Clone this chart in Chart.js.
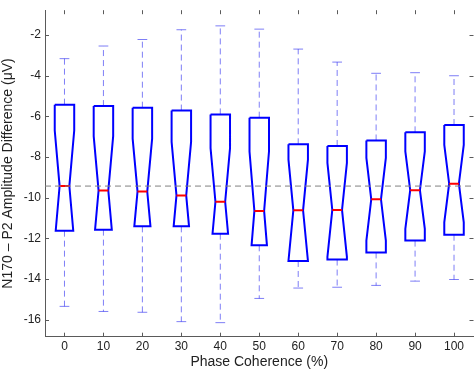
<!DOCTYPE html>
<html>
<head>
<meta charset="utf-8">
<script src="https://cdn.jsdelivr.net/npm/chart.js@4/dist/chart.umd.min.js"></script>
<style>
  html, body { margin: 0; padding: 0; background: #fff; overflow: hidden; }
  #wrap { position: absolute; left: 0; top: -1px; width: 474px; height: 375px; }
</style>
</head>
<body>
<div id="wrap"><canvas id="myChart"></canvas></div>
<script>
// phase coherence levels (%)
const categories = ['0', '10', '20', '30', '40', '50', '60', '70', '80', '90', '100'];

// box statistics (uV)
const medians   = [-9.43, -9.65, -9.70, -9.89, -10.20, -10.65, -10.62, -10.60, -10.08, -9.63, -9.31];
const q1        = [-11.62, -11.57, -11.41, -11.41, -11.77, -12.34, -13.11, -13.04, -12.69, -12.11, -11.82];
const q3        = [-5.43, -5.50, -5.58, -5.72, -5.91, -6.07, -7.38, -7.46, -7.19, -6.79, -6.43];
const notchHi   = [-6.70, -6.98, -7.10, -7.26, -7.57, -7.73, -8.13, -8.29, -8.05, -7.73, -7.41];
const notchLo   = [-12.16, -12.32, -12.30, -12.52, -12.83, -13.57, -13.11, -12.91, -12.11, -11.53, -11.21];
const whiskerHi = [-3.17, -2.55, -2.23, -1.75, -1.56, -1.72, -2.70, -3.34, -3.89, -3.86, -4.01];
const whiskerLo = [-15.34, -15.59, -15.63, -16.09, -16.14, -14.95, -14.44, -14.40, -14.31, -14.10, -14.02];

// dashed reference level (overall median)
const refLevel = -9.43;

const yTicks = [-16, -14, -12, -10, -8, -6, -4, -2];

const axisColor = '#5a5a5a';
const boxW = 0.25, notchW = 0.125, capW = 0.125;

Chart.defaults.font.family = '"Liberation Sans", Arial, Helvetica, sans-serif';
Chart.defaults.color = '#222';

var positions = categories.map(function(c, i) { return i + 1; });

// x offset of the box edge where the notch meets the box end
function edgeAt(med, notch, end) {
  if ((notch - end) * (notch - med) <= 0) return null; // notch inside box
  return notchW + (boxW - notchW) * (end - med) / (notch - med);
}

var outline = [];
var medLines = [];
var whiskers = [];
var caps = [];
positions.forEach(function(p, i) {
  var med = medians[i], top = q3[i], bot = q1[i];
  var hi = notchHi[i], lo = notchLo[i];
  var pts = [];
  // top-left corner, down the left side
  var tOff = (hi > top) ? edgeAt(med, hi, top) : null;
  if (tOff === null) { pts.push({x: p - boxW, y: top}); pts.push({x: p - boxW, y: hi}); }
  else pts.push({x: p - tOff, y: top});
  pts.push({x: p - notchW, y: med});
  var bOff = (lo < bot) ? edgeAt(med, lo, bot) : null;
  if (bOff === null) { pts.push({x: p - boxW, y: lo}); pts.push({x: p - boxW, y: bot}); pts.push({x: p + boxW, y: bot}); pts.push({x: p + boxW, y: lo}); }
  else { pts.push({x: p - bOff, y: bot}); pts.push({x: p + bOff, y: bot}); }
  pts.push({x: p + notchW, y: med});
  if (tOff === null) { pts.push({x: p + boxW, y: hi}); pts.push({x: p + boxW, y: top}); }
  else pts.push({x: p + tOff, y: top});
  pts.push(pts[0]);
  outline = outline.concat(pts);
  outline.push({x: p, y: null});

  medLines.push({x: p - notchW, y: med}, {x: p + notchW, y: med}, {x: p, y: null});

  whiskers.push({x: p, y: top}, {x: p, y: whiskerHi[i]}, {x: p, y: null});
  whiskers.push({x: p, y: bot}, {x: p, y: whiskerLo[i]}, {x: p, y: null});

  caps.push({x: p - capW, y: whiskerHi[i]}, {x: p + capW, y: whiskerHi[i]}, {x: p, y: null});
  caps.push({x: p - capW, y: whiskerLo[i]}, {x: p + capW, y: whiskerLo[i]}, {x: p, y: null});
});

// MATLAB style inward ticks on all four sides
const innerTicks = {
  id: 'innerTicks',
  afterDraw: function(chart) {
    var ctx = chart.ctx;
    var a = chart.chartArea;
    var sx = chart.scales.x, sy = chart.scales.y;
    var len = 4;
    ctx.save();
    ctx.strokeStyle = axisColor;
    ctx.lineWidth = 1;
    ctx.beginPath();
    sx.ticks.forEach(function(t) {
      var px = Math.round(sx.getPixelForValue(t.value)) + 0.5;
      ctx.moveTo(px, a.bottom); ctx.lineTo(px, a.bottom - len);
      ctx.moveTo(px, a.top); ctx.lineTo(px, a.top + len);
    });
    sy.ticks.forEach(function(t) {
      var py = Math.round(sy.getPixelForValue(t.value)) + 0.5;
      ctx.moveTo(a.left, py); ctx.lineTo(a.left + len, py);
      ctx.moveTo(a.right, py); ctx.lineTo(a.right - len, py);
    });
    ctx.stroke();
    ctx.restore();
  }
};

var ctx = document.getElementById('myChart').getContext('2d');

var config = {
  type: 'scatter',
  data: {
    datasets: [{
      // reference level
      data: [{x: 0.5, y: refLevel}, {x: 11.5, y: refLevel}],
      showLine: true,
      borderColor: '#808080',
      borderWidth: 1,
      borderDash: [6, 4],
      pointRadius: 0,
      order: 0
    }, {
      data: medLines,
      showLine: true,
      borderColor: '#ff0000',
      borderWidth: 2,
      pointRadius: 0,
      order: 1
    }, {
      data: outline,
      showLine: true,
      borderColor: '#0000ff',
      borderWidth: 2,
      borderJoinStyle: 'miter',
      pointRadius: 0,
      order: 2
    }, {
      data: whiskers,
      showLine: true,
      borderColor: 'rgba(40,40,240,0.6)',
      borderWidth: 1,
      borderDash: [6, 4],
      pointRadius: 0,
      order: 3
    }, {
      data: caps,
      showLine: true,
      borderColor: 'rgba(40,40,240,0.6)',
      borderWidth: 1,
      pointRadius: 0,
      order: 3
    }]
  },
  plugins: [innerTicks],
  options: {
    responsive: true,
    maintainAspectRatio: false,
    animation: false,
    layout: { padding: { left: 0, right: 0.5, top: 0, bottom: 0 } },
    scales: {
      x: {
        type: 'linear',
        min: 0.5,
        max: 11.5,
        afterBuildTicks: function(scale) {
          scale.ticks = positions.map(function(v) { return {value: v}; });
        },
        afterFit: function(scale) { scale.height = 37.3; },
        ticks: {
          autoSkip: false,
          maxRotation: 0,
          padding: 3,
          font: { size: 12 },
          callback: function(v) { return categories[v - 1]; }
        },
        grid: { display: false, drawTicks: false },
        border: { display: true, color: axisColor, width: 1 },
        title: {
          display: true,
          text: 'Phase Coherence (%)',
          font: { size: 14 },
          padding: { top: 0, bottom: 3 }
        }
      },
      y: {
        min: -16.83,
        max: -0.79,
        afterBuildTicks: function(scale) {
          scale.ticks = yTicks.map(function(v) { return {value: v}; });
        },
        afterFit: function(scale) { scale.width = 45; },
        ticks: {
          padding: 4,
          font: { size: 12 },
          callback: function(v) { return String(v); }
        },
        grid: { display: false, drawTicks: false },
        border: { display: true, color: axisColor, width: 1 },
        title: {
          display: true,
          text: 'N170 \u2013 P2 Amplitude Difference (\u03bcV)',
          font: { size: 14 },
          padding: { top: 0, bottom: 0 }
        }
      }
    },
    plugins: {
      legend: { display: false },
      title: { display: false },
      tooltip: { enabled: false }
    }
  }
};

var boxChart = new Chart(ctx, config);
</script>
</body>
</html>
